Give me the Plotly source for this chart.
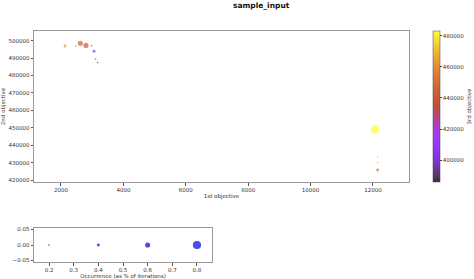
import plotly.graph_objects as go
import numpy as np

# Main scatter data
obj1 = [2130, 2470, 2620, 2800, 2980, 3060, 3110, 3170, 12060, 12150, 12150, 12150]
obj2 = [497000, 497000, 498500, 497300, 497000, 494000, 489500, 487500, 449000, 433400, 430000, 425700]
obj3 = [462000, 458000, 445000, 440000, 420000, 405000, 395000, 388000, 482000, 468000, 465000, 452000]
occ_main = [0.4, 0.2, 0.6, 0.6, 0.2, 0.4, 0.2, 0.2, 0.8, 0.2, 0.2, 0.4]

# Occurrence legend data
occ_levels = [0.2, 0.4, 0.6, 0.8]
occ_y = [0, 0, 0, 0]

def size_of(o):
    return 1.2 + 11.0 * o ** 2

# gnuplot-like colorscale with alpha
def gnuplot(x, a=0.8):
    r = np.sqrt(x)
    g = x ** 3
    b = max(0.0, np.sin(2 * np.pi * x))
    return f"rgba({int(r*255)},{int(g*255)},{int(b*255)},{a})"

cs = [[v, gnuplot(v)] for v in np.linspace(0, 1, 21)]

FONT = "DejaVu Sans"
fig = go.Figure()
fig.add_trace(go.Scatter(
    x=obj1, y=obj2, mode="markers",
    marker=dict(size=[size_of(o) for o in occ_main], color=obj3, colorscale=cs,
                cmin=386000, cmax=483000, line=dict(width=0),
                colorbar=dict(
                    x=433/474, xanchor="left", y=1-106.5/279, yanchor="middle",
                    lenmode="pixels", len=151, thicknessmode="pixels", thickness=7,
                    outlinewidth=0.5, outlinecolor="#444", xpad=0, ypad=0,
                    tickvals=[400000, 420000, 440000, 460000, 480000], tickformat="d",
                    ticks="outside", ticklen=2, tickfont=dict(size=5.5, family=FONT, color="#333"),
                    title=dict(text="3rd objective", side="right", font=dict(size=5.5, family=FONT, color="#333")),
                )),
    xaxis="x", yaxis="y", showlegend=False))
fig.add_trace(go.Scatter(
    x=occ_levels, y=occ_y, mode="markers",
    marker=dict(size=[size_of(o) for o in occ_levels], color="#0000e6", line=dict(width=0)),
    xaxis="x2", yaxis="y2", showlegend=False))

ax_common = dict(showgrid=False, zeroline=False, showline=True, mirror=True, automargin=False,
                 linecolor="#999", linewidth=1, ticks="outside", ticklen=2.5,
                 tickcolor="#555", tickfont=dict(size=5.5, family=FONT, color="#333"))

fig.update_layout(
    width=474, height=279, margin=dict(l=0, r=0, t=0, b=0, autoexpand=False),
    paper_bgcolor="white", plot_bgcolor="white",
    xaxis=dict(domain=[34/474, 409/474], anchor="y", range=[1135, 13154],
               tickvals=[2000, 4000, 6000, 8000, 10000, 12000], tickformat="d",
               title=dict(text="1st objective", font=dict(size=5.5, family=FONT, color="#333"), standoff=2),
               **ax_common),
    yaxis=dict(domain=[1-182/279, 1-31/279], anchor="x", range=[418850, 505570],
               tickvals=[420000, 430000, 440000, 450000, 460000, 470000, 480000, 490000, 500000],
               tickformat="d",
               title=dict(text="2nd objective", font=dict(size=5.5, family=FONT, color="#333"), standoff=2),
               **ax_common),
    xaxis2=dict(domain=[34/474, 212/474], anchor="y2", range=[0.139, 0.861],
                tickvals=[0.2, 0.3, 0.4, 0.5, 0.6, 0.7, 0.8], tickformat=".1f",
                title=dict(text="Occurrence (as % of iterations)", font=dict(size=5.5, family=FONT, color="#333"), standoff=2),
                **ax_common),
    yaxis2=dict(domain=[1-262/279, 1-228/279], anchor="x2", range=[-0.055, 0.055],
                tickvals=[-0.05, 0.0, 0.05], ticktext=["\u22120.05", "0.00", "0.05"],
                **ax_common),
    annotations=[dict(text="<b>sample_input</b>", x=261/474, y=1-6/279, xref="paper", yref="paper",
                      xanchor="center", yanchor="middle", showarrow=False,
                      font=dict(size=7.5, family=FONT, color="#111"))],
)
fig.write_html("out.html")
